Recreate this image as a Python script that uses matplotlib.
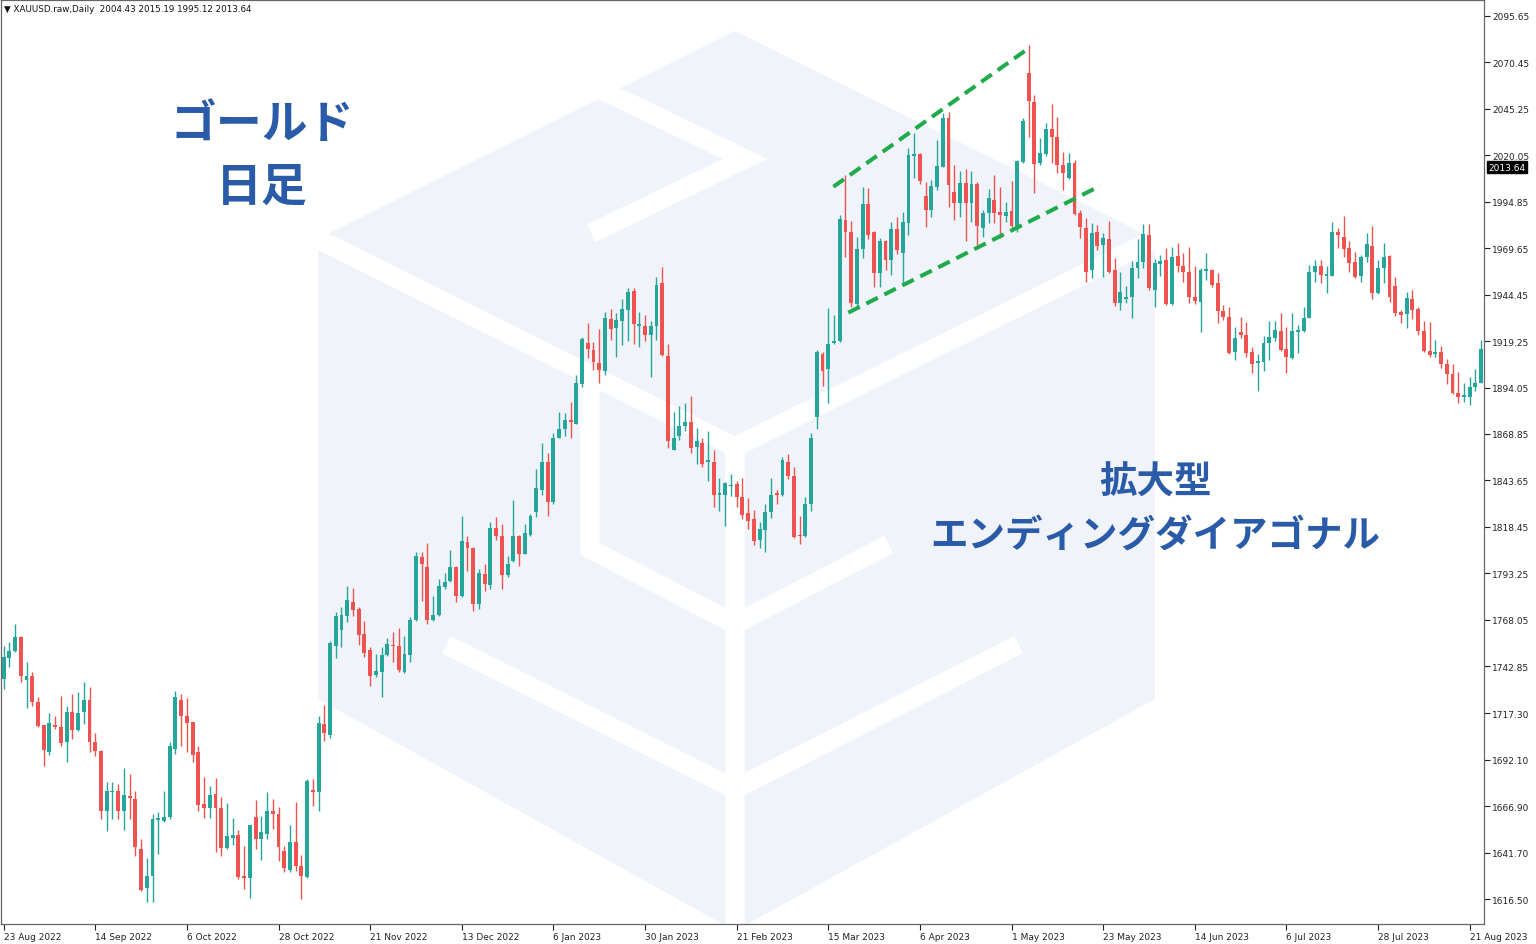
import matplotlib
matplotlib.use("Agg")
import matplotlib.pyplot as plt
from matplotlib.patches import Polygon
import numpy as np

opens = [1735.8,1747.1,1750.9,1758.5,1735.2,1737.4,1723.3,1710.8,1696.2,1710.8,
1709.7,1701.6,1717.9,1708.1,1717.9,1724.4,1701.6,1696.7,1664.2,1674.5,
1675.0,1664.2,1672.3,1670.7,1643.6,1622.5,1629.0,1659.4,1658.8,1661.0,
1697.8,1724.4,1715.7,1712.4,1696.2,1668.0,1665.8,1673.4,1665.8,1644.2,
1649.6,1651.2,1629.0,1627.9,1661.0,1649.0,1651.7,1664.2,1662.6,1642.5,
1632.2,1647.4,1634.4,1628.4,1675.6,1674.5,1711.4,1705.4,1753.6,1762.3,
1769.9,1777.5,1773.7,1760.1,1751.5,1737.9,1739.6,1748.7,1754.2,1753.6,
1739.5,1748.7,1767.7,1801.9,1796.5,1767.7,1770.4,1785.6,1788.9,1796.5,
1780.7,1810.0,1806.8,1776.4,1792.7,1786.7,1817.6,1813.3,1792.1,1799.7,
1813.3,1804.0,1813.8,1826.3,1838.7,1853.9,1831.7,1866.9,1871.3,1876.1,
1874.5,1895.7,1918.4,1914.6,1907.6,1903.2,1931.4,1926.5,1930.3,1936.3,
1946.6,1927.6,1927.6,1922.7,1927.6,1951.0,1911.4,1860.4,1867.5,1873.4,
1875.6,1862.0,1864.2,1853.9,1853.9,1835.5,1835.5,1840.4,1841.5,1834.4,
1825.8,1822.5,1811.1,1816.5,1826.3,1837.1,1835.5,1853.9,1846.3,1813.8,
1813.3,1830.6,1877.8,1912.4,1904.3,1918.4,1919.5,1985.1,1978.6,1939.6,
1969.4,1993.7,1978.6,1956.3,1973.7,1963.4,1980.2,1967.2,1983.4,2019.8,
2020.8,1998.1,1990.5,2002.9,2013.8,2040.4,2000.2,1994.3,2005.1,1994.3,
2004.6,1980.7,1988.9,1995.9,1989.4,1987.2,1990.0,1981.3,2016.5,2064.8,
2049.0,2016.0,2020.8,2034.4,2030.1,2014.9,2007.8,2016.0,1988.9,1980.7,
1958.0,1978.6,1971.5,1974.8,1958.0,1940.1,1942.3,1942.9,1959.1,1962.3,
1976.9,1947.1,1961.2,1963.4,1939.6,1965.6,1960.1,1956.9,1943.4,1940.6,
1957.4,1958.0,1951.0,1935.7,1932.5,1913.5,1924.4,1922.7,1913.5,1907.6,
1908.1,1918.4,1921.1,1924.9,1915.1,1910.3,1924.4,1924.9,1931.9,1956.9,
1960.1,1954.7,1954.7,1978.6,1975.9,1969.9,1962.3,1954.7,1965.0,1971.0,
1945.5,1959.1,1965.6,1949.3,1935.2,1934.1,1942.3,1936.8,1924.9,1914.1,
1912.4,1913.5,1907.0,1901.6,1891.3,1889.1,1889.1,1894.6,1896.7]

highs = [1753.6,1755.8,1765.6,1759.0,1745.0,1739.5,1726.0,1711.0,1717.3,1715.7,
1726.5,1721.1,1727.6,1728.7,1734.1,1731.4,1706.5,1697.5,1679.9,1679.9,
1678.9,1687.5,1684.3,1675.0,1649.0,1638.7,1662.6,1663.7,1675.0,1701.6,
1729.3,1727.6,1725.4,1712.5,1699.4,1682.6,1677.7,1682.1,1671.8,1668.5,
1660.4,1653.9,1645.2,1656.7,1670.2,1661.5,1674.5,1670.7,1666.4,1645.2,
1656.6,1669.1,1640.4,1681.6,1681.6,1715.7,1721.7,1756.3,1772.1,1774.8,
1786.2,1785.1,1774.8,1767.2,1753.1,1749.3,1753.1,1758.0,1761.2,1763.4,
1759.0,1769.4,1804.6,1804.6,1809.5,1780.7,1790.0,1793.7,1805.7,1797.0,
1824.1,1813.3,1807.5,1795.4,1798.1,1820.9,1823.6,1819.8,1802.4,1833.3,
1813.8,1819.8,1825.2,1849.6,1864.2,1858.8,1869.6,1881.0,1880.5,1886.4,
1901.1,1921.6,1929.2,1918.9,1926.0,1935.2,1936.8,1934.6,1942.3,1948.2,
1948.2,1935.2,1933.6,1930.3,1954.2,1959.6,1917.9,1881.0,1884.3,1885.9,
1889.7,1872.3,1866.9,1870.2,1859.9,1845.2,1842.6,1847.4,1843.1,1845.2,
1833.9,1827.4,1820.9,1831.1,1844.7,1838.7,1856.1,1858.2,1851.2,1824.1,
1834.9,1869.6,1914.6,1913.5,1937.4,1933.6,1987.8,2009.5,1984.5,1975.9,
2002.9,2002.4,1978.8,1975.3,1974.2,1984.0,1986.7,1989.4,2024.1,2032.2,
2021.4,2005.7,2006.7,2028.4,2043.1,2043.6,2014.9,2011.6,2012.7,2011.6,
2005.7,1990.5,2001.9,2009.5,2002.9,1994.8,2006.2,2017.6,2040.4,2079.9,
2052.8,2029.5,2037.7,2047.9,2040.9,2021.9,2021.4,2017.6,1990.5,1986.2,
1983.4,1982.4,1978.0,1984.5,1964.5,1956.9,1949.3,1962.9,1974.8,1982.9,
1982.9,1963.9,1966.1,1969.9,1970.4,1972.6,1967.2,1970.4,1960.1,1959.1,
1967.2,1958.5,1956.3,1939.0,1937.9,1927.1,1932.5,1929.8,1916.2,1912.4,
1922.2,1930.3,1930.3,1934.6,1927.1,1934.6,1928.2,1937.9,1960.7,1963.4,
1963.4,1960.1,1984.0,1980.7,1987.2,1973.7,1967.7,1966.1,1978.0,1981.8,
1963.4,1972.6,1966.1,1954.2,1936.3,1946.1,1947.1,1937.9,1930.3,1929.8,
1920.0,1916.4,1909.7,1907.0,1902.7,1896.7,1899.5,1904.3,1920.0]

lows = [1730.3,1742.3,1750.4,1734.1,1720.0,1721.1,1709.7,1688.6,1694.6,1708.7,
1699.4,1690.8,1703.2,1707.6,1711.4,1696.2,1694.0,1659.9,1653.4,1659.9,
1659.9,1653.9,1659.9,1639.8,1620.9,1614.9,1614.9,1640.9,1658.5,1659.9,
1695.1,1699.4,1696.2,1690.8,1664.2,1660.4,1660.4,1642.0,1639.8,1643.6,
1645.8,1627.4,1621.9,1617.1,1643.6,1637.7,1649.0,1654.5,1637.1,1631.2,
1631.2,1631.7,1616.5,1628.0,1666.9,1664.2,1702.1,1703.8,1747.1,1753.1,
1766.6,1769.9,1754.2,1747.7,1731.9,1736.8,1726.0,1748.2,1745.0,1739.5,
1739.3,1745.0,1767.2,1778.0,1765.6,1767.2,1769.9,1784.5,1788.3,1777.5,
1780.2,1794.3,1772.6,1773.7,1783.5,1784.5,1811.6,1784.5,1791.0,1799.2,
1797.0,1803.5,1813.3,1823.6,1836.0,1824.1,1831.1,1866.4,1867.5,1866.9,
1874.0,1894.6,1910.3,1903.8,1896.7,1901.1,1920.0,1910.8,1917.3,1919.5,
1917.9,1916.2,1919.5,1900.0,1920.0,1911.4,1861.0,1859.9,1865.8,1870.2,
1858.8,1852.8,1850.7,1843.1,1829.5,1826.8,1818.7,1835.0,1829.5,1822.5,
1817.1,1808.4,1806.8,1804.6,1823.0,1831.1,1835.0,1844.2,1812.2,1809.0,
1812.7,1826.8,1871.3,1895.1,1885.4,1917.9,1919.0,1965.0,1937.9,1937.9,
1964.5,1974.8,1948.7,1948.7,1958.0,1955.3,1966.6,1951.0,1976.9,2007.8,
2004.6,1981.3,1986.7,2001.3,2013.5,1992.1,1985.1,1986.7,1973.7,1984.0,
1971.5,1975.9,1983.4,1983.4,1975.3,1984.0,1979.7,1978.6,2016.0,2030.1,
1999.7,2014.9,2019.7,2016.0,2010.5,2001.3,2007.3,1987.8,1975.3,1951.5,
1953.6,1968.8,1954.2,1956.4,1938.5,1936.3,1940.1,1931.9,1953.6,1959.1,
1947.1,1937.9,1954.7,1939.0,1939.0,1956.9,1951.5,1940.1,1939.6,1924.4,
1952.5,1948.7,1929.2,1930.9,1912.4,1909.2,1921.1,1910.8,1902.2,1892.4,
1903.2,1909.2,1919.5,1914.1,1902.2,1909.7,1913.0,1924.4,1931.6,1951.5,
1951.0,1945.5,1954.5,1969.9,1965.0,1956.9,1953.6,1951.5,1962.3,1942.3,
1945.0,1951.0,1940.6,1933.0,1929.2,1926.5,1931.4,1922.7,1913.5,1910.8,
1910.8,1904.6,1896.2,1890.8,1885.4,1886.4,1884.8,1892.4,1896.5]

closes = [1747.7,1750.9,1758.5,1737.4,1737.4,1723.3,1710.3,1697.3,1711.9,1709.7,
1701.1,1717.9,1708.1,1717.3,1724.4,1701.6,1696.7,1664.2,1675.0,1675.0,
1664.2,1672.9,1671.2,1644.7,1621.4,1629.0,1659.9,1660.4,1661.0,1699.4,
1726.0,1715.7,1711.9,1694.6,1667.5,1665.8,1672.9,1665.8,1644.2,1650.7,
1651.2,1628.4,1627.9,1656.6,1649.0,1652.8,1664.2,1662.6,1644.7,1633.3,
1647.4,1634.4,1629.0,1680.5,1674.5,1711.9,1706.5,1755.3,1769.9,1770.4,
1778.6,1773.1,1759.6,1749.8,1737.4,1740.1,1748.7,1754.7,1753.6,1740.6,
1749.3,1767.7,1802.4,1798.1,1767.7,1770.4,1786.2,1788.3,1796.5,1780.7,
1810.6,1806.8,1776.4,1793.2,1787.2,1817.6,1813.3,1792.1,1798.1,1813.3,
1804.0,1814.9,1824.1,1839.3,1853.9,1832.2,1866.4,1871.3,1876.7,1875.6,
1896.7,1920.6,1915.1,1908.1,1903.8,1931.9,1926.0,1930.9,1936.8,1946.1,
1928.7,1928.7,1922.7,1927.6,1949.9,1911.9,1865.3,1866.9,1873.4,1875.6,
1861.0,1864.8,1852.8,1854.4,1835.5,1836.6,1842.0,1840.9,1834.4,1824.7,
1821.9,1810.6,1817.1,1826.3,1836.0,1835.5,1855.0,1845.8,1812.7,1813.3,
1830.6,1866.9,1913.5,1903.2,1917.9,1919.5,1985.6,1978.6,1940.1,1969.4,
1993.7,1976.9,1956.3,1973.7,1963.4,1980.2,1968.8,1984.0,2020.3,2020.8,
2006.2,1990.5,2003.5,2014.3,2040.4,2004.0,1994.3,2005.1,1994.3,2004.6,
1981.8,1988.9,1997.0,1988.9,1987.8,1989.4,1981.8,2017.0,2038.7,2049.6,
2015.4,2021.4,2034.4,2030.1,2014.9,2010.5,2016.0,1988.3,1981.3,1956.9,
1978.0,1971.0,1975.3,1956.9,1940.1,1946.1,1942.9,1959.1,1962.3,1977.5,
1948.2,1961.8,1962.9,1939.6,1965.0,1960.1,1956.9,1942.9,1941.2,1958.0,
1958.0,1949.9,1935.7,1932.5,1913.0,1921.1,1922.7,1913.0,1907.0,1908.1,
1918.4,1921.6,1925.5,1914.6,1910.8,1924.9,1924.9,1931.9,1956.9,1960.1,
1955.3,1955.3,1978.6,1976.9,1969.4,1961.8,1954.2,1965.0,1972.1,1945.5,
1959.1,1965.0,1943.4,1934.6,1933.6,1942.8,1936.3,1924.9,1914.1,1911.9,
1913.5,1907.0,1901.6,1891.3,1889.1,1889.7,1894.6,1896.7,1915.1]

date_labels = ["23 Aug 2022", "14 Sep 2022", "6 Oct 2022", "28 Oct 2022",
               "21 Nov 2022", "13 Dec 2022", "6 Jan 2023", "30 Jan 2023",
               "21 Feb 2023", "15 Mar 2023", "6 Apr 2023", "1 May 2023",
               "23 May 2023", "14 Jun 2023", "6 Jul 2023", "28 Jul 2023",
               "21 Aug 2023"]
label_step = 16
price_ticks = [2095.65, 2070.45, 2045.25, 2020.05, 1994.85, 1969.65, 1944.45,
               1919.25, 1894.05, 1868.85, 1843.65, 1818.45, 1793.25, 1768.05,
               1742.85, 1717.30, 1692.10, 1666.90, 1641.70, 1616.50]
last_price = 2013.64
header = "\u25BC XAUUSD.raw,Daily  2004.43 2015.19 1995.12 2013.64"

# pattern lines (bar index, price)
upper_line = ([144.9, 179.3], [2003.0, 2078.8])
lower_line = ([147.5, 191.5], [1934.7, 2003.5])

title_lines = ["ゴールド", "日足"]
pattern_lines = ["拡大型", "エンディングダイアゴナル"]

W, H = 1536, 945
fig = plt.figure(figsize=(W / 100, H / 100), dpi=100)

# faint background logo drawn in its own full-figure axes (pixel space)
bg = fig.add_axes([0, 0, 1, 1], zorder=0)
bg.set_xlim(0, W); bg.set_ylim(H, 0); bg.axis("off")
PALE = "#f0f4fa"
logo_outer = [(318, 240), (735, 32), (1155, 240), (1155, 700), (735, 932), (318, 700)]
bg.add_patch(Polygon(logo_outer, closed=True, facecolor=PALE, edgecolor="none"))
white_bands = [
    [(318, 240), (735, 448), (735, 932)],
    [(735, 448), (1155, 240)],
    [(455, 650), (735, 790), (1010, 650)],
    [(600, 90), (745, 160), (600, 230)],
    [(590, 380), (590, 550), (735, 625), (880, 550)],
]
for band in white_bands:
    bg.plot([p[0] for p in band], [p[1] for p in band], color="white",
            lw=14, solid_joinstyle="miter")

ax = fig.add_axes([0.0006, 20 / H, 1484 / W - 0.0006, 1 - 21 / H], zorder=1)
ax.set_facecolor("none")

o = np.array(opens); h = np.array(highs); l = np.array(lows); c = np.array(closes)
h = np.maximum(h, np.maximum(o, c)); l = np.minimum(l, np.minimum(o, c))
x = np.arange(len(o))
up = c >= o
GREEN = "#26a69a"
RED = "#ef5350"
cols = np.where(up, GREEN, RED)
ax.vlines(x, l, h, colors=cols, linewidth=1.0, zorder=3)
bottoms = np.minimum(o, c)
heights = np.maximum(np.abs(c - o), 0.9)
ax.bar(x, heights, bottom=bottoms, width=0.68, color=cols, linewidth=0, zorder=4)

ax.plot(upper_line[0], upper_line[1], color="#1faa4b", lw=2.9,
        linestyle=(0, (3.2, 1.8)), zorder=5, solid_capstyle="butt")
ax.plot(lower_line[0], lower_line[1], color="#1faa4b", lw=2.9,
        linestyle=(0, (3.2, 1.8)), zorder=5, solid_capstyle="butt")

ax.set_xlim(-0.47, 258.5)
ax.set_ylim(1603.0, 2104.3)

ax.yaxis.tick_right()
ax.set_yticks(price_ticks)
ax.set_yticklabels([f"{v:.2f}" for v in price_ticks])
ax.tick_params(axis="y", direction="out", length=4, width=0.8, pad=2,
               labelsize=6.5, colors="#222222")
ticks_x = [i * label_step for i in range(len(date_labels))]
ax.set_xticks(ticks_x)
ax.set_xticklabels(date_labels, ha="left")
ax.tick_params(axis="x", direction="out", length=4, width=0.8, pad=1.5,
               labelsize=6.5, colors="#222222")
for s in ax.spines.values():
    s.set_color("#666666")
    s.set_linewidth(0.9)

ax.annotate(f"{last_price:.2f}", xy=(1.0, last_price), xycoords=("axes fraction", "data"),
            xytext=(3, 0), textcoords="offset points", va="center", ha="left",
            fontsize=6.5, color="white",
            bbox=dict(boxstyle="square,pad=0.15", fc="black", ec="black"))

fig.text(4 / W, 1 - 10 / H, header, fontsize=6.3, va="center", ha="left",
         color="#111111", family=["DejaVu Sans"], zorder=2)

BLUE = "#2a5ba8"
for txt, cx, cy, fs in [(title_lines[0], 262, 125, 33), (title_lines[1], 262, 188, 33),
                        (pattern_lines[0], 1155, 482, 27), (pattern_lines[1], 1155, 536, 27)]:
    fig.text(cx / W, 1 - cy / H, txt, fontsize=fs, fontweight="bold", color=BLUE,
             ha="center", va="center", family=["Noto Sans CJK JP"], zorder=2)

fig.savefig("out.png", dpi=100, facecolor="white")
